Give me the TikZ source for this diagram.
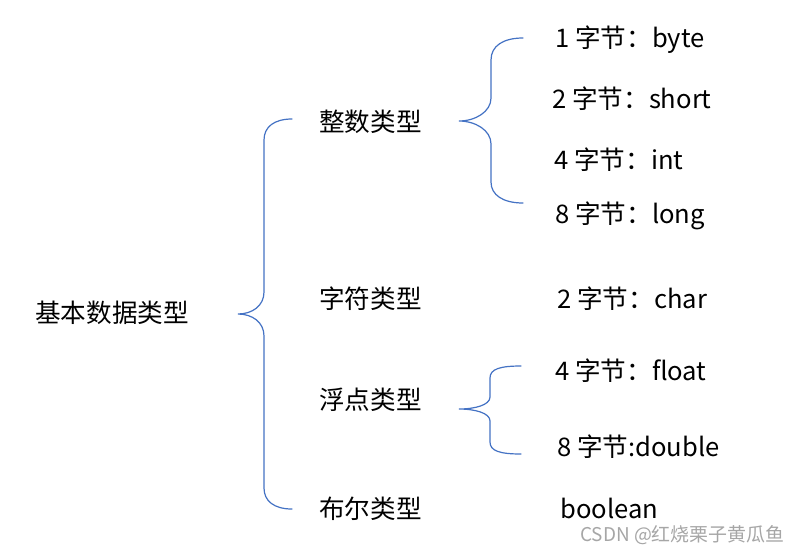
\documentclass[tikz,border=0pt]{standalone}
\usepackage{fontspec}
\setmainfont{Noto Sans CJK SC}
\definecolor{bracecol}{HTML}{4472C4}
\definecolor{wmcol}{HTML}{A6A6A6}
\begin{document}
\begin{tikzpicture}[x=0.75pt,y=-0.75pt,
  lbl/.style={anchor=west,inner sep=0pt,font=\fontsize{19.2}{21}\selectfont,text=black},
  wm/.style={anchor=base west,inner sep=0pt,text height=9pt,text depth=1pt,font=\fontsize{14.2}{16}\selectfont,text=wmcol},
  bracestyle/.style={draw=bracecol,line width=0.9pt,line cap=round}]
\useasboundingbox (0,0) rectangle (803,551);
\fill[white] (0,0) rectangle (803,551);

% labels
\node[lbl] (root) at (35,313) {基本数据类型};
\node[lbl] (int) at (319,122) {整数类型};
\node[lbl] (chr) at (319,299) {字符类型};
\node[lbl] (flt) at (319,400) {浮点类型};
\node[lbl] (bool) at (319,509) {布尔类型};

\node[lbl] (b1) at (555,40) {1 字节：byte};
\node[lbl] (b2) at (552,99) {2 字节：short};
\node[lbl] (b4) at (554,160) {4 字节：int};
\node[lbl] (b8) at (555,216) {8 字节：long};
\node[lbl] (c2) at (557,299) {2 字节：char};
\node[lbl] (f4) at (555,371) {4 字节：float};
\node[lbl] (d8) at (557,447) {8 字节:double};
\node[lbl,text depth=0pt] (bl) at (560,508) {boolean};

\node[wm] (mark) at (580,541) {CSDN @红烧栗子黄瓜鱼};

% big brace
\coordinate (tipA) at (238,314);
\draw[bracestyle] (292,119) .. controls (274,119) and (264,127) .. (264,140)
  -- (264,292) .. controls (264,306) and (252,314) .. (tipA)
  .. controls (252,314) and (264,322) .. (264,336)
  -- (264,488) .. controls (264,501) and (274,509) .. (292,509);

% integer brace
\coordinate (tipB) at (459,121);
\draw[bracestyle] (523,38) .. controls (503,38) and (491,46) .. (491,60)
  -- (491,98) .. controls (491,112) and (475,121) .. (tipB)
  .. controls (475,121) and (491,130) .. (491,144)
  -- (491,182) .. controls (491,195) and (503,203) .. (523,203);

% float brace
\coordinate (tipC) at (459,409);
\draw[bracestyle] (521,366) .. controls (500,366) and (490,369) .. (490,378)
  -- (490,397) .. controls (490,405) and (475,409) .. (tipC)
  .. controls (475,409) and (490,413) .. (490,421)
  -- (490,442) .. controls (490,451) and (500,454) .. (521,454);
\end{tikzpicture}
\end{document}
